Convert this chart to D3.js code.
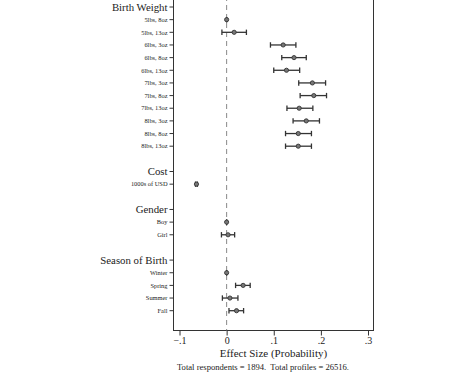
<!DOCTYPE html>
<html>
<head>
<meta charset="utf-8">
<script src="https://cdn.jsdelivr.net/npm/d3@7"></script>
<style>
  body { margin: 0; background: #fff; }
  text { font-family: "Liberation Serif", "DejaVu Serif", serif; fill: #222; }
</style>
</head>
<body>
<div id="chart"></div>
<script>
// rows from top to bottom, "" = spacer row
var labels = ["Birth Weight", "5lbs, 8oz", "5lbs, 13oz", "6lbs, 3oz", "6lbs, 8oz", "6lbs, 13oz",
  "7lbs, 3oz", "7lbs, 8oz", "7lbs, 13oz", "8lbs, 3oz", "8lbs, 8oz", "8lbs, 13oz", "",
  "Cost", "1000s of USD", "",
  "Gender", "Boy", "Girl", "",
  "Season of Birth", "Winter", "Spring", "Summer", "Fall"];
var headers = ["Birth Weight", "Cost", "Gender", "Season of Birth"];
var estimates = [null, 0, 0.016, 0.120, 0.143, 0.127, 0.182, 0.185, 0.154, 0.169, 0.152, 0.152, null,
  null, -0.064, null,
  null, 0, 0.003, null,
  null, 0, 0.035, 0.007, 0.021];
var lower = [null, 0, -0.010, 0.093, 0.117, 0.100, 0.153, 0.156, 0.128, 0.141, 0.125, 0.125, null,
  null, -0.066, null,
  null, 0, -0.011, null,
  null, 0, 0.019, -0.009, 0.005];
var upper = [null, 0, 0.042, 0.147, 0.169, 0.155, 0.210, 0.212, 0.183, 0.197, 0.180, 0.180, null,
  null, -0.062, null,
  null, 0, 0.017, null,
  null, 0, 0.050, 0.024, 0.036];
var xTicks = [-0.1, 0, 0.1, 0.2, 0.3];
var xTickLabels = ["\u2212.1", "0", ".1", ".2", ".3"];
var xTitle = "Effect Size (Probability)";
var note = "Total respondents = 1894.  Total profiles = 26516.";

var W = 474, H = 380;
var box = {left: 173.5, right: 373.5, top: -13, bottom: 330.5};

var svg = d3.select("#chart").append("svg")
  .attr("width", W).attr("height", H);

var x = d3.scaleLinear().domain([-0.1, 0.3]).range([179.5, 368]);
var y = d3.scaleLinear().domain([0, labels.length - 1]).range([7, 310.7]);

// frame
svg.append("rect")
  .attr("x", box.left).attr("y", box.top)
  .attr("width", box.right - box.left).attr("height", box.bottom - box.top)
  .attr("fill", "none").attr("stroke", "#333").attr("stroke-width", 1);

// zero reference line
svg.append("line")
  .attr("x1", x(0)).attr("x2", x(0))
  .attr("y1", box.top).attr("y2", box.bottom)
  .attr("stroke", "#888").attr("stroke-width", 1)
  .attr("stroke-dasharray", "5 4");

// x axis
var xAxis = svg.append("g")
  .attr("transform", "translate(0," + box.bottom + ")")
  .call(d3.axisBottom(x).tickValues(xTicks)
    .tickFormat(function(d, i) { return xTickLabels[i]; })
    .tickSize(5).tickPadding(1));
xAxis.select("path.domain").remove();
xAxis.selectAll("line").attr("stroke", "#333");
xAxis.selectAll("text").style("font-size", "10px").style("font-family", "Liberation Serif, serif").attr("fill", "#222");

svg.append("text")
  .attr("x", (box.left + box.right) / 2).attr("y", 357)
  .attr("text-anchor", "middle").style("font-size", "11px")
  .text(xTitle);

svg.append("text")
  .attr("x", 263).attr("y", 369.5)
  .attr("text-anchor", "middle").style("font-size", "8.6px")
  .style("white-space", "pre")
  .text(note);

// y labels and ticks
labels.forEach(function(l, i) {
  if (!l) return;
  var isHead = headers.indexOf(l) >= 0;
  svg.append("line")
    .attr("x1", box.left - 4).attr("x2", box.left)
    .attr("y1", y(i)).attr("y2", y(i))
    .attr("stroke", "#333");
  svg.append("text")
    .attr("x", box.left - 6).attr("y", y(i))
    .attr("dy", "0.35em")
    .attr("text-anchor", "end")
    .style("font-size", isHead ? "10.8px" : "6.4px")
    .text(l);
});

// error bars and points
var rows = labels.map(function(l, i) {
  return {i: i, est: estimates[i], lo: lower[i], hi: upper[i]};
}).filter(function(d) { return d.est !== null; });

var g = svg.append("g");
rows.forEach(function(d) {
  var yy = y(d.i);
  g.append("line")
    .attr("x1", x(d.lo)).attr("x2", x(d.hi))
    .attr("y1", yy).attr("y2", yy)
    .attr("stroke", "#333").attr("stroke-width", 1.3);
  [d.lo, d.hi].forEach(function(v) {
    g.append("line")
      .attr("x1", x(v)).attr("x2", x(v))
      .attr("y1", yy - 2.7).attr("y2", yy + 2.7)
      .attr("stroke", "#333").attr("stroke-width", 1.3);
  });
  g.append("circle")
    .attr("cx", x(d.est)).attr("cy", yy).attr("r", 2.1)
    .attr("fill", "#777").attr("stroke", "#333").attr("stroke-width", 0.9);
});
</script>
</body>
</html>
